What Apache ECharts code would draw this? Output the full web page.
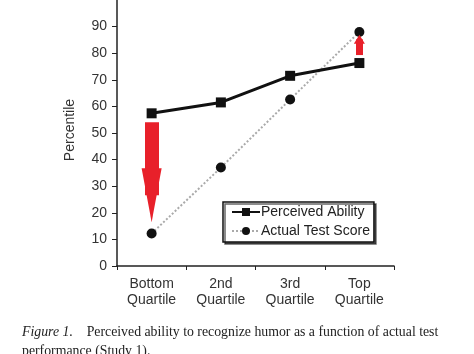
<!DOCTYPE html>
<html>
<head>
<meta charset="utf-8">
<script src="https://cdn.jsdelivr.net/npm/echarts@6/dist/echarts.min.js"></script>
<style>
  html, body { margin: 0; padding: 0; background: #fff; }
  #chart { width: 474px; height: 354px; }
</style>
</head>
<body>
<div id="chart"></div>
<script>
// quartiles of actual test performance
const categories = ['Bottom\nQuartile', '2nd\nQuartile', '3rd\nQuartile', 'Top\nQuartile'];
const perceivedAbility = [57.4, 61.5, 71.5, 76.3];
const actualTestScore = [12.2, 37, 62.6, 88];
const yTicks = [0, 10, 20, 30, 40, 50, 60, 70, 80, 90];

// red arrows drawn over the chart (start / head centre in data units)
const bigArrow = [[0, 54], [0, 26.6]];
const smallArrow = [[3, 79.3], [3, 85.2]];

var chartDom = document.getElementById('chart');
var myChart = echarts.init(chartDom);

const sans = 'Liberation Sans';
const serif = 'Liberation Serif';

var option = {
    animation: false,
    grid: {
        left: 117,
        right: 80,
        top: -4,
        bottom: 88
    },
    legend: {
        orient: 'vertical',
        left: 223,
        top: 202,
        padding: [3, 4, 4, 8],
        itemGap: 5,
        itemWidth: 28,
        itemHeight: 10,
        borderColor: '#111',
        borderWidth: 1.5,
        shadowColor: 'rgba(0,0,0,0.6)',
        shadowOffsetX: 2,
        shadowOffsetY: 2,
        backgroundColor: '#fff',
        textStyle: {fontFamily: sans, fontSize: 14, color: '#222', padding: [0, 0, 0, -4]},
        data: ['Perceived Ability', 'Actual Test Score']
    },
    xAxis: {
        type: 'category',
        data: categories,
        boundaryGap: true,
        axisLine: {lineStyle: {color: '#222', width: 1.5}},
        axisTick: {show: true, length: 4, lineStyle: {color: '#222'}},
        axisLabel: {
            fontFamily: sans,
            fontSize: 14,
            color: '#333',
            lineHeight: 16,
            margin: 10
        }
    },
    yAxis: {
        type: 'value',
        min: 0,
        max: 100,
        interval: 10,
        name: 'Percentile',
        nameLocation: 'middle',
        nameGap: 40,
        nameTextStyle: {fontFamily: sans, fontSize: 14, color: '#333', padding: [0, 0, 0, 6]},
        splitLine: {show: false},
        axisLine: {show: true, lineStyle: {color: '#222', width: 1.5}},
        axisTick: {show: true, length: 5, lineStyle: {color: '#222'}},
        axisLabel: {
            showMaxLabel: false,
            fontFamily: sans,
            fontSize: 14,
            color: '#333',
            margin: 10,
            formatter: v => (yTicks.indexOf(v) >= 0 ? String(v) : '')
        }
    },
    series: [
        {
            name: 'Perceived Ability',
            type: 'line',
            data: perceivedAbility,
            symbol: 'rect',
            symbolSize: 10,
            itemStyle: {color: '#111'},
            lineStyle: {color: '#111', width: 3},
            z: 3
        },
        {
            name: 'Actual Test Score',
            type: 'line',
            data: actualTestScore,
            symbol: 'circle',
            symbolSize: 10,
            itemStyle: {color: '#111'},
            lineStyle: {color: '#aaa', width: 2, type: 'dotted'},
            z: 2,
            markLine: {
                silent: true,
                symbol: ['none', 'triangle'],
                label: {show: false},
                z: 5,
                data: [
                    [
                        {coord: bigArrow[0], lineStyle: {color: '#e8202a', width: 14, type: 'solid'}, symbolSize: [20, 54]},
                        {coord: bigArrow[1], symbolSize: [20, 54]}
                    ],
                    [
                        {coord: smallArrow[0], lineStyle: {color: '#e8202a', width: 7, type: 'solid'}, symbolSize: [11, 9]},
                        {coord: smallArrow[1], symbolSize: [11, 9]}
                    ]
                ]
            }
        }
    ],
    graphic: [
        {
            type: 'text',
            left: 22,
            top: 325,
            style: {
                text: '{i|Figure 1.}    Perceived ability to recognize humor as a function of actual test',
                fontFamily: serif,
                fontSize: 13.8,
                fill: '#222',
                rich: {
                    i: {fontFamily: serif, fontStyle: 'italic', fontSize: 13.8, fill: '#222'}
                }
            }
        },
        {
            type: 'text',
            left: 22,
            top: 344,
            style: {
                text: 'performance (Study 1).',
                fontFamily: serif,
                fontSize: 13.8,
                fill: '#222'
            }
        }
    ]
};

myChart.setOption(option);
</script>
</body>
</html>
